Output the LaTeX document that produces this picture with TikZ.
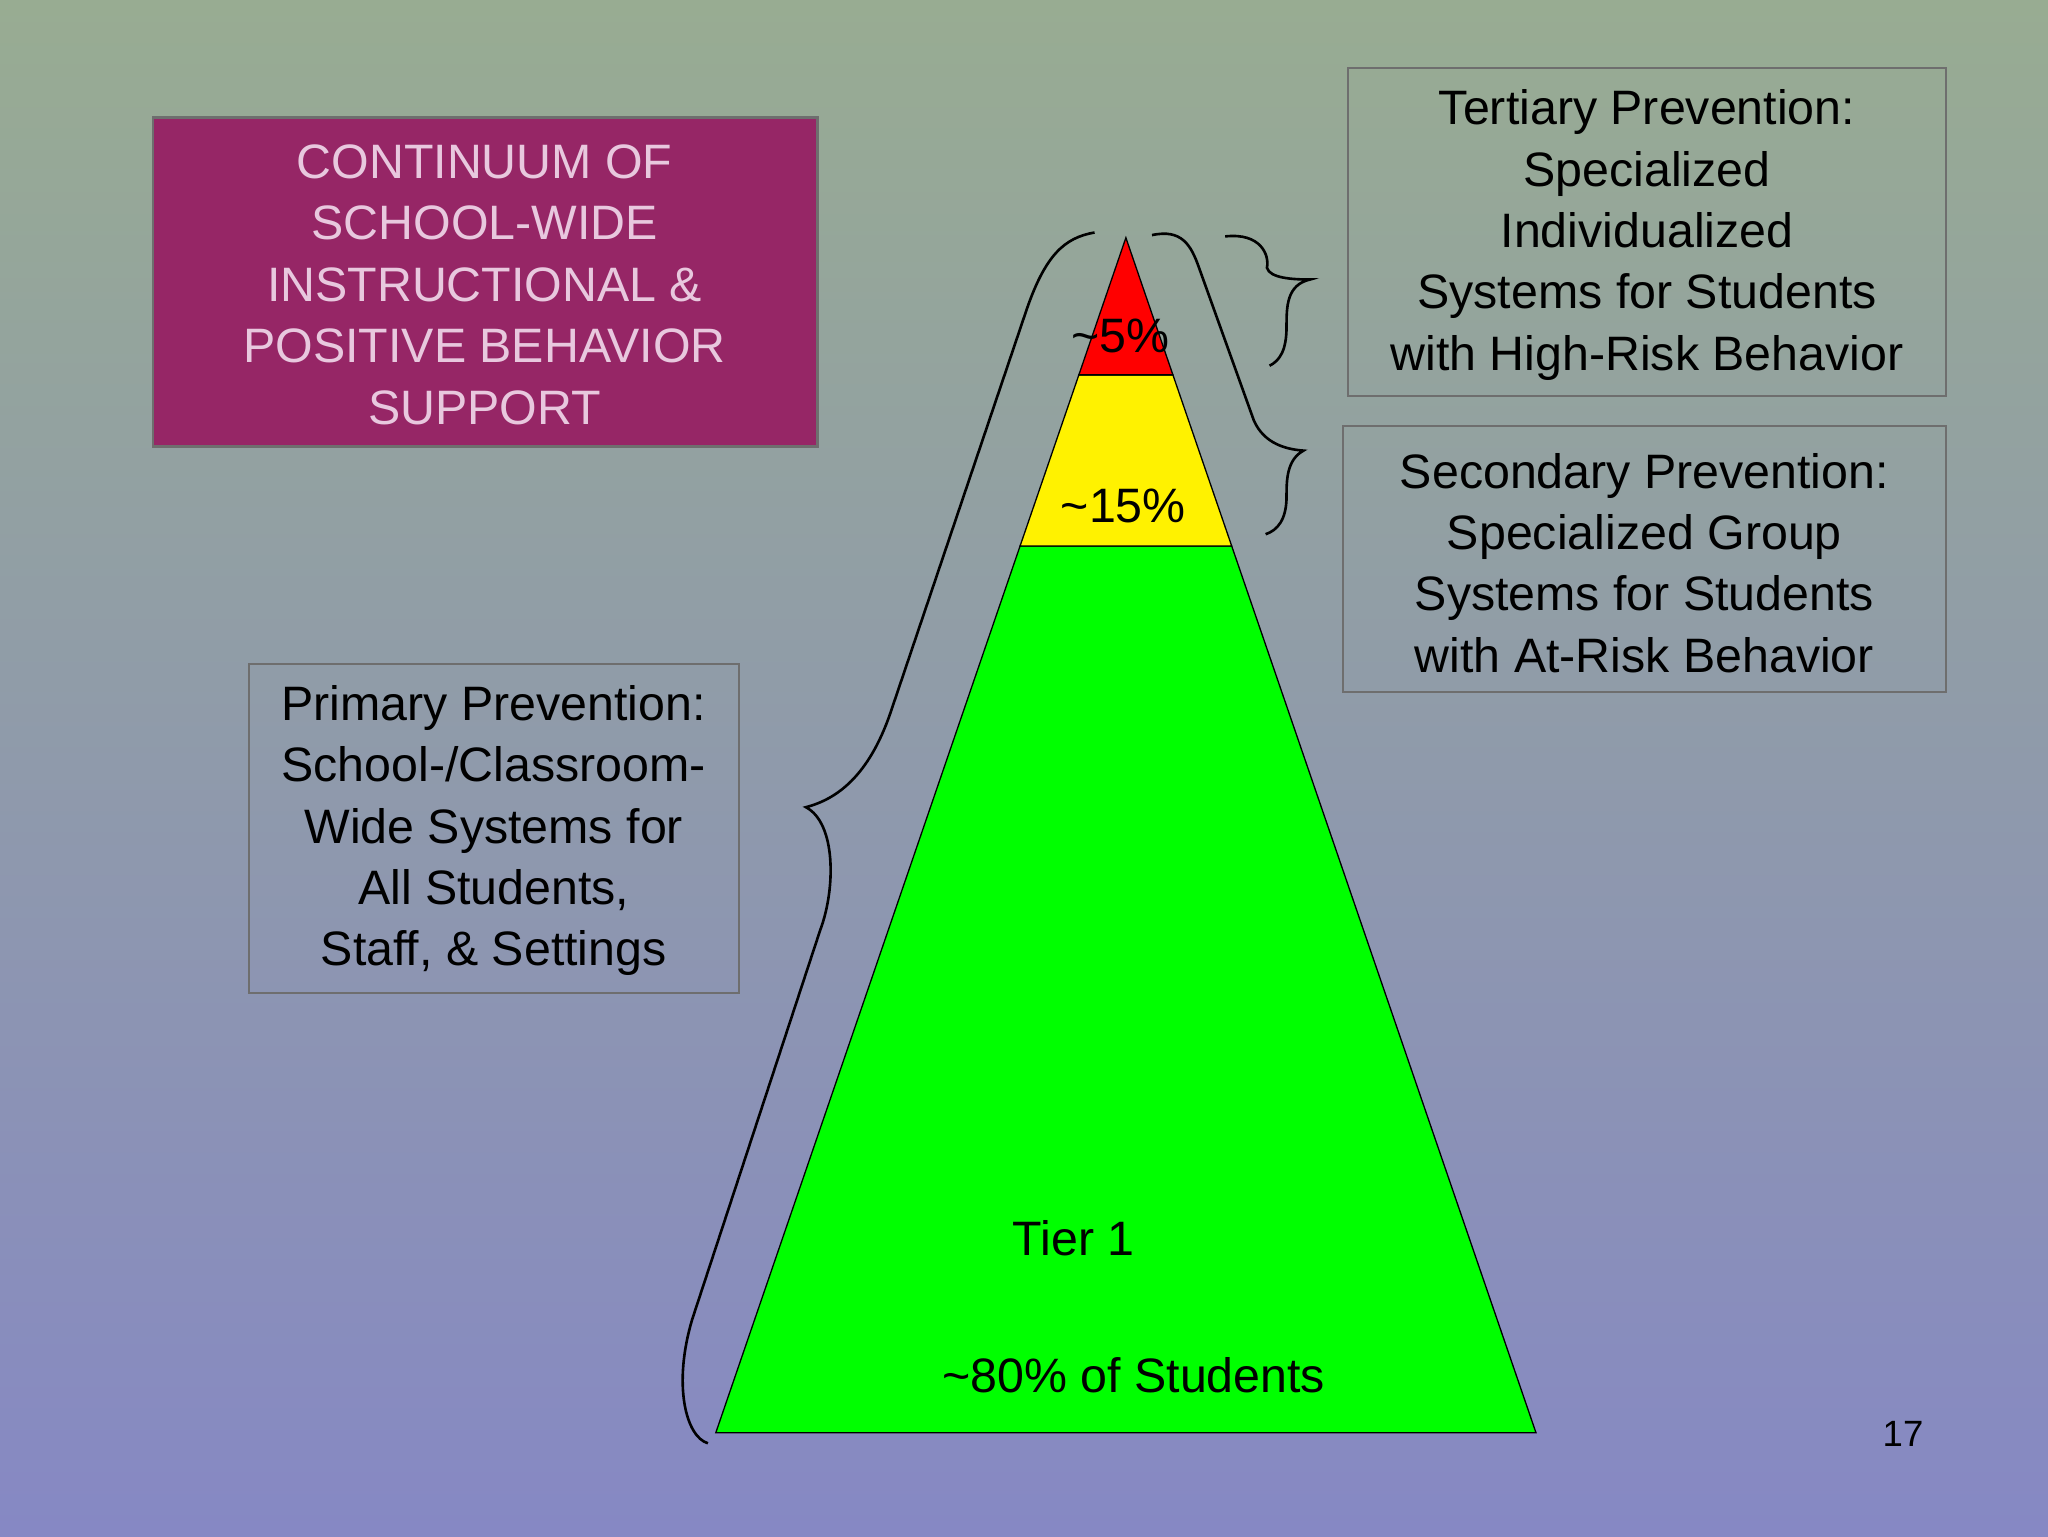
\documentclass[tikz,border=0pt]{standalone}
\usepackage{fontspec}
\setmainfont{Liberation Sans}
\definecolor{bgtop}{RGB}{152,172,146}
\definecolor{bgbot}{RGB}{134,136,196}
\definecolor{titlefill}{RGB}{150,38,102}
\definecolor{titletext}{RGB}{232,200,222}
\definecolor{boxline}{RGB}{110,110,110}
\tikzset{
  txt/.style={font=\fontsize{37}{47}\selectfont, align=center, inner sep=0pt},
  infobox/.style={draw=boxline, line width=1.5pt},
  brace/.style={draw=black, line width=2pt},
  tier/.style={draw=black, line width=1pt}
}
\begin{document}
\begin{tikzpicture}[x=1pt,y=-1pt]
\shade[top color=bgtop, bottom color=bgbot] (0,0) rectangle (1568,1176);
\useasboundingbox (0,0) rectangle (1568,1176);
% title
\draw[draw=boxline, fill=titlefill, line width=2pt] (117,90) rectangle (626,342);
\node[txt, text=titletext] (title) at (371,218) {CONTINUUM OF\\SCHOOL-WIDE\\INSTRUCTIONAL \&\\POSITIVE BEHAVIOR\\SUPPORT};
% boxes
\draw[infobox] (1032,52) rectangle (1490,303);
\node[txt] (tert) at (1261,180) {Tertiary Prevention:\\Specialized\\Individualized\\Systems for Students\\with High-Risk Behavior};
\draw[infobox] (1028,326) rectangle (1490,530);
\node[txt] (sec) at (1259,431) {Secondary Prevention:\\Specialized Group\\Systems for Students\\with At-Risk Behavior};
\draw[infobox] (191,508) rectangle (566,760);
\node[txt] (prim) at (378,636) {Primary Prevention:\\School-/Classroom-\\Wide Systems for\\All Students,\\Staff, \& Settings};
% pyramid
\draw[tier, fill={rgb,255:red,0;green,255;blue,0}] (781,418) -- (943,418) -- (1176,1097) -- (548,1097) -- cycle;
\draw[tier, fill=yellow] (826,287) -- (898,287) -- (943,418) -- (781,418) -- cycle;
\draw[tier, fill=red] (862,182) -- (898,287) -- (826,287) -- cycle;
\node[txt] (p5) at (858,257) {\textasciitilde5\%};
\node[txt] (p15) at (860,387) {\textasciitilde15\%};
\node[txt] (t1) at (822,948) {Tier 1};
\node[txt] (p80) at (868,1053) {\textasciitilde80\% of Students};
\node[font=\fontsize{28}{34}\selectfont, inner sep=0pt] (num) at (1457,1098) {17};
% braces
\draw[brace] (838,178) .. controls (815,182) and (800,195) .. (785,240)
  -- (682,545) .. controls (665,595) and (640,612) .. (617,618)
  .. controls (640,630) and (640,680) .. (628,712)
  -- (530,1010) .. controls (515,1060) and (525,1100) .. (542,1105);
\draw[brace] (938,181) .. controls (965,178) and (972,195) .. (970,205)
  .. controls (972,213) and (990,214) .. (1003,214)
  .. controls (985,218) and (985,235) .. (985,250)
  .. controls (985,268) and (980,276) .. (972,280);
\draw[brace] (882,180) .. controls (905,175) and (912,188) .. (918,205)
  -- (960,322) .. controls (968,340) and (985,344) .. (998,345)
  .. controls (985,352) and (985,368) .. (985,380)
  .. controls (985,398) and (978,406) .. (969,409);
\end{tikzpicture}
\end{document}
